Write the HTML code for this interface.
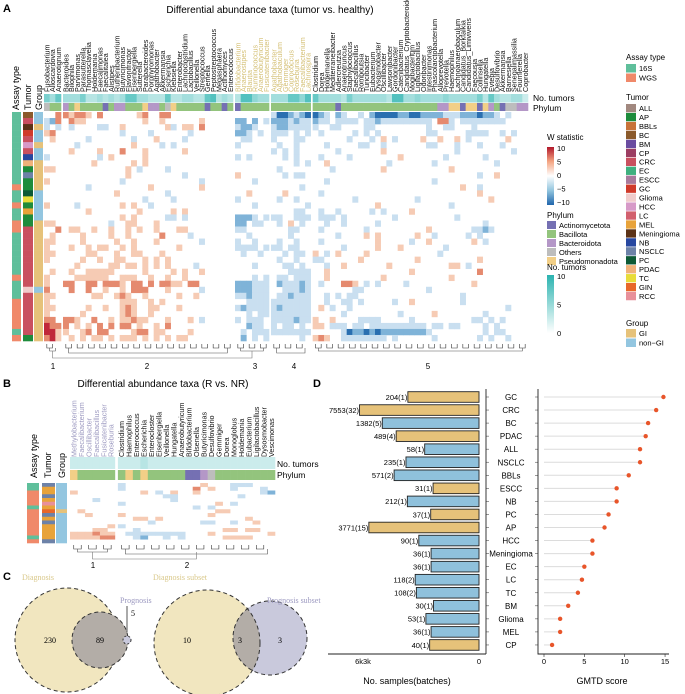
<!DOCTYPE html>
<html><head><meta charset="utf-8"><style>
html,body{margin:0;padding:0;background:#fff}
svg{display:block;font-family:"Liberation Sans",Arial,sans-serif}
</style></head><body>
<svg id="fig" width="685" height="694" viewBox="0 0 685 694" xmlns="http://www.w3.org/2000/svg">
<defs>
<linearGradient id="wgrad" x1="0" y1="0" x2="0" y2="1"><stop offset="0" stop-color="#b2182b"/><stop offset="0.25" stop-color="#f4a582"/><stop offset="0.5" stop-color="#ffffff"/><stop offset="0.75" stop-color="#92c5de"/><stop offset="1" stop-color="#2166ac"/></linearGradient>
<linearGradient id="ngrad" x1="0" y1="0" x2="0" y2="1"><stop offset="0" stop-color="#2bb3b0"/><stop offset="1" stop-color="#ffffff"/></linearGradient>
<clipPath id="vennclip"><circle cx="207" cy="643" r="53"/></clipPath>
</defs>
<text x="3" y="12" font-size="11" font-weight="bold">A</text>
<text x="270" y="13" font-size="10" text-anchor="middle">Differential abundance taxa (tumor vs. healthy)</text>
<text x="3" y="387" font-size="11" font-weight="bold">B</text>
<text x="163" y="387" font-size="10" text-anchor="middle">Differential abundance taxa (R vs. NR)</text>
<text x="3" y="580" font-size="11" font-weight="bold">C</text>
<text x="313" y="387" font-size="11" font-weight="bold">D</text>
<g id="gA"></g>
<g id="gB"></g>
<g id="gC">
<circle cx="67" cy="640" r="52" fill="#f1e6bf" stroke="#333" stroke-dasharray="4,3"/>
<circle cx="100" cy="640" r="28" fill="#b3ada7" stroke="#333" stroke-dasharray="4,3"/>
<circle cx="127" cy="640" r="4" fill="#c9c9dc" stroke="#333" stroke-dasharray="2,2"/>
<line x1="127" y1="606" x2="127" y2="632" stroke="#555"/>
<text x="22" y="580" font-size="8" fill="#d9c88a" font-family="Liberation Serif,serif">Diagnosis</text>
<text x="120" y="603" font-size="8" fill="#9c99c0" font-family="Liberation Serif,serif">Prognosis</text>
<text x="131" y="616" font-size="8" font-family="Liberation Serif,serif">5</text>
<text x="50" y="643" font-size="8" text-anchor="middle" font-family="Liberation Serif,serif">230</text>
<text x="100" y="643" font-size="8" text-anchor="middle" font-family="Liberation Serif,serif">89</text>
<circle cx="207" cy="643" r="53" fill="#f1e6bf"/>
<circle cx="270" cy="638" r="37" fill="#c9c9dc"/>
<circle cx="270" cy="638" r="37" fill="#b3ada7" clip-path="url(#vennclip)"/>
<circle cx="207" cy="643" r="53" fill="none" stroke="#333" stroke-dasharray="4,3"/>
<circle cx="270" cy="638" r="37" fill="none" stroke="#333" stroke-dasharray="4,3"/>
<text x="153" y="580" font-size="8" fill="#d9c88a" font-family="Liberation Serif,serif">Diagnosis subset</text>
<text x="267" y="603" font-size="8" fill="#9c99c0" font-family="Liberation Serif,serif">Prognosis subset</text>
<text x="187" y="643" font-size="8" text-anchor="middle" font-family="Liberation Serif,serif">10</text>
<text x="240" y="643" font-size="8" text-anchor="middle" font-family="Liberation Serif,serif">3</text>
<text x="280" y="643" font-size="8" text-anchor="middle" font-family="Liberation Serif,serif">3</text>
</g>
<g id="gD"></g>
<g id="gL"></g>
</svg>
<script>
// ---------- Panel D data ----------
const tumors = ["GC","CRC","BC","PDAC","ALL","NSCLC","BBLs","ESCC","NB","PC","AP","HCC","Meningioma","EC","LC","TC","BM","Glioma","MEL","CP"];
const samples = [204,7553,1382,489,58,235,571,31,212,37,3771,90,36,36,118,108,30,53,36,40];
const batches = [1,32,5,4,1,1,2,1,1,1,15,1,1,1,2,2,1,1,1,1];
const groups = ["GI","GI","nonGI","GI","nonGI","nonGI","nonGI","GI","nonGI","GI","GI","nonGI","nonGI","nonGI","nonGI","nonGI","nonGI","nonGI","nonGI","GI"];
const gmtd = [14.8,13.9,12.9,12.6,11.9,11.9,10.5,9,9,8,7.5,6,6,5,4.7,4.2,3,2,2,1];
const gmtdTicks = [0,5,10,15];

// ---------- Panel A data ----------
const segSizes = [3,30,6,7,38];
const taxaA = [
 ["Fusobacterium","Alloscardovia","Anaerotignum"],
 ["Bacteroides","Bilophila","Parvimonas","Parasutterella","Thomasclavelia","Holdemania","Faecalimonas","Faecalitalea","Alistipes","Ruthenibacterium","Butyricimonas","Flavonifractor","Eisenbergiella","Sutterella","Parabacteroides","Porphyromonas","Agathobacter","Akkermansia","Escherichia","Klebsiella","Enterobacter","Lachnoclostridium","Lactobacillus","Veillonella","Streptococcus","Gemella","Peptostreptococcus","Megasphaera","Actinomyces","Enterococcus"],
 ["Bifidobacterium","Anaerostipes","Blautia","Ruminococcus","Anaerobutyricum","Fusicatenibacter"],
 ["Agathobacter","Agathobaculum","Gemmiger","Coprococcus","Roseburia","Faecalibacterium","Lachnospira"],
 ["Clostridium","Dorea","Holdemanella","Mediterraneibacter","Adlercreutzia","Anaerotruncus","Staphylococcus","Faecalibacillus","Romboutsia","Turicibacter","Eubacterium","Dysosmobacter","Oscillibacter","Lawsonibacter","Gordonibacter","Catenibacterium","Candidatus_Cryptobacteroides","Mogibacterium","Ligilactobacillus","Odoribacter","Intestinimonas","Phascolarctobacterium","Alloprevotella","Prevotella","Haemophilus","Lachnoanaerobaculum","Candidatus_Borkfalkia","Candidatus_Limivivens","Faecousia","Collinsella","Hungatella","Evtepia","Desulfovibrio","Akkermansia","Barnesiella","Senegalimassilia","Fournierella","Coprobacter"]
];
const tumorCountA = ["536","3335223232366332226223322672323","277433","3336647","6333325333333277334333343333352632233"];
const phylumA = ["ogg","pgyggggagppgggyppgoygggggagga","aggggg","ggggggg","ggggagggggggggggggggggppyyayyaypgaoopp"];
const cellsA = [
"..R.|RrRRr.R......rR..RR.......|.......|bNNBbBN|NBb.Bb..b.BNNNNBBNNBBBBbbbBBBNBBb.b.",
"bBR.|.Rrr..........r..r......r.|BB.B.b.|BBBbBbb|Bbb.bbbb.bbBbbbbbbbbb.RRb.bbbbbbbb...",
"b.bb|.b....bb..r.......rb.rr.R.|bBBb...|bBBbbbb|b..bb....bb.........b..bb...b.......",
"rR..|..........b....b......b...|BBb.b..|bbb.b.b|.b.....b.b.b........bb.....bbbb..b.b",
".r..|....b.......b...r....b....|.bb....|b...bb.|......b...b.r.b....r..r..r.b......r.",
"....|..b.........r....b.b.....|b......|.b..b..|..b.....bb..b.......bb...b...b...b..",
"....|.r....r...R...r......r...|.......|b.b.b..|....b.......r............b.........b",
"b...|......b.r.....r..........|b.b....|..b.b..|.b....b........r.......b......b....",
"....|.....r......r.r..........|.......|....b.b|..r..........b.......b..........b..",
"rr..|...........r.b....b......|.......|.b.....|...b........r...........r..........",
"....|...........r.........b...|r......|..b.bb.|.............................b..r...",
"r...|..........b.............b|...b...|.......|..b..................b.............",
"....|....b..........r........r|.......|.....b.|..........................r..b.....",
"....|.........r........b......|..r....|..r....|.b...........................r....",
"....|..............b....b.....|b......|.b..b..|.......b..........b............r...",
"r...|..b.......r.r..b.........|...b...|......b|...........r............b.........",
"....|....r........r.....r.r...|.......|....bb.|.b..b.....b.b....r................",
"....|..........r.r.....bb.b...|BBBb.b.|bb..bbb|.bbb.b........b..........b........",
"rr.r|........b..rr...r........|BB.bb..|.b.r.b.|..b..b.....b..................b...",
"..R.|.rr..r..r..r.r..r...rr...|bb....b|...bb..|.b.......b..........r.......bbBb..",
".r..|...r....r..r.....R....b..|..b....|...b...|....b....r.r......r..b.....b.b....",
"rr..|...r.....r..r...r.......b|b..b...|.b..b..|.b.........r.....b..r.......r.b...",
"r...|.r..r.rr..r.r.......r....|bbbb.b.|bb.bb..|.....b.....r...r.......b.........",
"rr..|....rr...r..rr...r.......|.b..b..|..b.bb.|r.b.r....r............b...........",
"r...|...r..r..rr...r.r.r.....|.......|.b..b..|bb......r.........r..........r.....",
"....|..r.....rr.rr.r.r.r....b.|...b...|..bb.b.|..b..r.......r..........rr.b......",
".r..|.r..rrrrr.....r....r.r..r|......b|...bbbb|..r..............r...........R....",
"r...|..rrrrrr..rrr..r..r..r...|...b.bb|.bb.bbb|..r.........r...........r.........",
"r...|RR..RR.RRRr.RR.R.RRrr.RR..|BBBbbb.|.BbbbBb|.b...RRr.b.b....b...........r....",
"R...|.R..R..r..r.RRR...r.....b|BBBbbb.|..bbbBb|.......bb...........b...........",
"rr..|.....rr..rRr..r.....r..r.|bbBbbbb|.bbBbbb|..b.b.bb..................b.....",
"r...|..........rrr..r.r.......|..bbbb.|bbbbbbb|..b..bb.b.....b..r........b......",
"rr..|....r..r..rRr..rr...r....|bBbbbb.|bBbbbbb|.r.b..b...........................b",
"r...|...r......rRr..r.........|..b.bbb|bbbbbbb|.....b.........b.....r........b...",
"RR..|RRr..R..r.rrRrr...r...r.b|b.bbb..|bbbbBbb|r..r....bbbb.....b..........bb.b.b",
"DRR.|R.r.r.R.R.RR.r..r.R......|..Bbb.b|b.bb.b.|rr.bbb.bb.bbbbbbbbbb.bb.bb....b.b.",
"DDr.|r..rR.RR....rRR.rr....r.|.b.bbbb|bbbbbbb|.....bNBBNBNBBBBBBBBb.........b.bb",
"RDr.|.r.r.rr.r.rrr.r.r.r.rr...|.B.b.b.|.....b.|rRr..bbbbbbbb.b......b.......b.b..b"
];
const assayA = "ttttttttttttwttwttwwtttttttwtttwwwwwtw";
const tumorA = "CRnGRHRNdPsPPcTPmPPRRRRRRRRRRgRRRRRRRP";
const groupA = "nngnngnngggggnnnnngggggggggggngggggggg";
const clusterLabelsA = ["1","2","3","4","5"];

// ---------- Panel B data ----------
const bSegSizes = [6,21];
const taxaB = [
 ["Methylobacterium","Faecalibacterium","Oscillibacter","Faecalibacillus","Fusicatenibacter","Roseburia"],
 ["Clostridium","Haemophilus","Enterococcus","Escherichia","Enterocloster","Eisenbergiella","Veillonella","Hungatella","Anaerobutyricum","Bifidobacterium","Olsenella","Butyricimonas","Desulfovibrio","Gemmiger","Dorea","Monoglobus","Holdemania","Eubacterium","Ligilactobacillus","Dysosmobacter","Vescimonas"]
];
const tumorCountB = ["111111","111211111111111111111"];
const phylumB = ["yggggg","gygygggggaapoggggggggg"];
const cellsB = [
"......|b..........r...bbb...",
"......|b.........R.r..b...b.",
"r.....|...r.b.r..r........bB",
"......|......bb........b....",
"...b..|.......b.............",
"......|b............r.b.....",
"......|..........b.b........",
".r....|.............rr......",
"..r...|r...........r........",
"......|..rr.r...........r...",
"......|....b......bb..b..r..",
".....r|b....................",
"...rr.|..b...........rr.rr..",
"rrrRrr|.bbbbbbbb...r.......r",
"rrrrRR|..bB..b.b.....rrrr...",
"......|....................."
];
const assayB = "ttwwwwtwwwwwwwtw";
const tumorB = "smmsmrmIsmsmmmms";
const groupB = "nnnnnnngnnnnnnnn";
const clusterLabelsB = ["1","2"];

// ---------- Legend data ----------
const tumorLegend = ["ALL","AP","BBLs","BC","BM","CP","CRC","EC","ESCC","GC","Glioma","HCC","LC","MEL","Meningioma","NB","NSCLC","PC","PDAC","TC","GIN","RCC"];
const phylumLegend = ["Actinomycetota","Bacillota","Bacteroidota","Others","Pseudomonadota"];
const wTicks = [10,5,0,-5,-10];
const nTicks = [10,5,0];

// ---------- styles / helpers ----------
const NS = "http://www.w3.org/2000/svg";
const cellCol = {r:"#f6cbb4",R:"#e58a6f",D:"#c0283a",b:"#c9dff0",B:"#7fb3d8",N:"#2a6fb0"};
const phyCol = {a:"#7570b3",g:"#93c47d",p:"#b497c7",o:"#bdbdbd",y:"#f2cf87"};
const phyLegCol = ["#7570b3","#93c47d","#b497c7","#bdbdbd","#f2cf87"];
const tumCol = {A:"#a1887f",P:"#1e8c3c",L:"#c8733a",C:"#8b5a2b",M:"#6a4ca0",p:"#9c3e62",R:"#c9505f",E:"#3fb07f",S:"#a87a9c",G:"#d03a2a",g:"#f0cccc",H:"#d79ac8",l:"#d2606e",m:"#e8a33a",n:"#5c3317",N:"#2747a0",s:"#6d82a8",c:"#0d5a36",d:"#f0b27a",T:"#e8dc3a",I:"#e8672a",r:"#e8909a"};
const tumLegCol = ["#a1887f","#1e8c3c","#c8733a","#8b5a2b","#6a4ca0","#9c3e62","#c9505f","#3fb07f","#a87a9c","#d03a2a","#f0cccc","#d79ac8","#d2606e","#e8a33a","#5c3317","#2747a0","#6d82a8","#0d5a36","#f0b27a","#e8dc3a","#e8672a","#e8909a"];
const assayCol = {t:"#5fbf9b",w:"#f0896a"};
const groupCol = {g:"#e6c27a",n:"#93c6e0",GI:"#e6c27a",nonGI:"#8fc1dc"};
function mk(tag, attrs, parent){const e=document.createElementNS(NS,tag);for(const k in attrs)e.setAttribute(k,attrs[k]);parent.appendChild(e);return e;}
function tcol(d){const t=Math.max(0,Math.min(9,+d))/9;const a=[255,255,255],b=[43,179,176];const c=a.map((v,i)=>Math.round(v+(b[i]-v)*(0.15+0.85*t)));return "rgb("+c.join(",")+")";}
function segs(str,sizes){const parts=str.split("|");const out=[];sizes.forEach((n,i)=>{let s=(parts[i]||"");s=(s+".".repeat(n)).slice(0,n);for(const ch of s)out.push(ch);});return out;}

// ---------- heatmap builder ----------
function heatmap(g, cfg){
  const {sizes,x0,x1,gap,taxa,tcount,phy,cells,yCells0,yCells1,yHdr,yNT,yPh,labelColors,assay,tumor,grp,annX,dendY,clusterLabels,labelSize} = cfg;
  const ncol = sizes.reduce((a,b)=>a+b,0);
  const cw = (x1-x0-gap*(sizes.length-1))/ncol;
  const colX = []; let x=x0;
  sizes.forEach((n,si)=>{for(let i=0;i<n;i++){colX.push({x:x,seg:si,idx:i});x+=cw;} x+=gap;});
  const tc = segs(tcount.join("|"),sizes), ph = segs(phy.join("|"),sizes);
  const names = []; taxa.forEach((arr,si)=>{for(let i=0;i<sizes[si];i++)names.push(arr[i]||"");});
  colX.forEach((c,i)=>{
    const t = mk("text",{transform:"translate("+(c.x+cw/2+2.6)+","+yHdr+") rotate(-90)","font-size":labelSize,fill:labelColors[c.seg]},g);
    
    
    t.textContent = names[i];
    const r1 = mk("rect",{x:c.x,y:yNT[0],width:cw+0.3,height:yNT[1]-yNT[0],fill:tcol(tc[i]==="."?1:tc[i])},g);
    
    
    const r2 = mk("rect",{x:c.x,y:yPh[0],width:cw+0.3,height:yPh[1]-yPh[0],fill:phyCol[ph[i]]||phyCol.g},g);
    
    
  });
  const rh = (yCells1-yCells0)/cells.length;
  cells.forEach((row,ri)=>{
    const v = segs(row,sizes);
    v.forEach((ch,ci)=>{
      if(!cellCol[ch]) return;
      const r = mk("rect",{x:colX[ci].x,y:yCells0+ri*rh,width:cw+0.3,height:rh+0.3,fill:cellCol[ch]},g);
      
      
    });
  });
  const ah = (yCells1-yCells0)/assay.length;
  [[assay,assayCol,annX[0]],[tumor,tumCol,annX[1]],[grp,groupCol,annX[2]]].forEach(([s,cm,ax],k)=>{
    for(let i=0;i<s.length;i++){
      const r = mk("rect",{x:ax[0],y:yCells0+i*ah,width:ax[1]-ax[0],height:ah+0.3,fill:cm[s[i]]||"#ccc"},g);
      
      
    }
  });
  // dendrogram
  let start=0; const segCenters=[];
  sizes.forEach((n,si)=>{
    const xs = colX.slice(start,start+n).map(c=>c.x+cw/2); start+=n;
    for(let i=0;i+1<xs.length;i+=2){
      const p = mk("path",{d:"M"+xs[i]+","+(dendY+4)+"V"+(dendY+8)+"H"+xs[i+1]+"V"+(dendY+4),fill:"none",stroke:"#333","stroke-width":0.6},g);
      
      
    }
    const mid=(xs[0]+xs[xs.length-1])/2; segCenters.push(mid);
    const p2 = mk("path",{d:"M"+(xs[0]+cw/2)+","+(dendY+8)+"V"+(dendY+11+si%2*2)+"H"+(xs[xs.length-1]-cw/2)+"V"+(dendY+8),fill:"none",stroke:"#555","stroke-width":0.6},g);
    
    
  });
  const p3 = mk("path",{d:"M"+segCenters[0]+","+(dendY+11)+"V"+(dendY+18)+"H"+segCenters[Math.min(2,segCenters.length-1)]+"V"+(dendY+11),fill:"none",stroke:"#777","stroke-width":0.6},g);
  
  
  const cl = cfg.clusterX;
  clusterLabels.forEach((s,i)=>{
    const t = mk("text",{x:cl[i],y:cfg.clusterY,"font-size":8,"text-anchor":"middle"},g);
    
    
    t.textContent=s;
  });
  return colX;
}
const gA = document.getElementById("gA");
heatmap(gA,{sizes:segSizes,x0:44,x1:528,gap:2,taxa:taxaA,tcount:tumorCountA,phy:phylumA,cells:cellsA,yCells0:112,yCells1:341,yHdr:92,yNT:[94,102.5],yPh:[103,111],
  labelColors:["#111","#111","#d4bf73","#d4bf73","#111"],assay:assayA,tumor:tumorA,grp:groupA,annX:[[12,21],[23,33],[34,43]],dendY:340,clusterLabels:clusterLabelsA,clusterX:[53,147,255,294,428],clusterY:369,labelSize:7.2});
const gB = document.getElementById("gB");
heatmap(gB,{sizes:bSegSizes,x0:70,x1:275,gap:3,taxa:taxaB,tcount:tumorCountB,phy:phylumB,cells:cellsB,yCells0:483,yCells1:543,yHdr:457,yNT:[457,469],yPh:[470,480],
  labelColors:["#9c99c0","#111"],assay:assayB,tumor:tumorB,grp:groupB,annX:[[27,39],[42,55],[56,67]],dendY:541,clusterLabels:clusterLabelsB,clusterX:[93,187],clusterY:568,labelSize:7.2});

function txt(g,x,y,s,size,anchor,name,extra){const t=mk("text",Object.assign({x:x,y:y,"font-size":size,"text-anchor":anchor||"start"},extra||{}),g);t.textContent=s;return t;}
// annotation / row labels
[["Assay type",19],["Tumor",31],["Group",42]].forEach(([s,x])=>{
  const t=mk("text",{transform:"translate("+x+",110) rotate(-90)","font-size":9},gA);t.textContent=s;
  
  
});
[["Assay type",37],["Tumor",51],["Group",65]].forEach(([s,x])=>{
  const t=mk("text",{transform:"translate("+x+",478) rotate(-90)","font-size":9},gB);t.textContent=s;
  
  
});
txt(gA,533,101,"No. tumors",8.5,"start","row-label-no-tumors");
txt(gA,533,111,"Phylum",8.5,"start","row-label-phylum");
txt(gB,277,467,"No. tumors",8.5,"start","row-label-no-tumors-b");
txt(gB,277,478,"Phylum",8.5,"start","row-label-phylum-b");

// ---------- legends ----------
const gL = document.getElementById("gL");
txt(gL,626,60,"Assay type",8,"start","legend-title-assay");
[["16S","#5fbf9b"],["WGS","#f0896a"]].forEach(([s,c],i)=>{
  const r=mk("rect",{x:626,y:64+i*9.5,width:10,height:8.5,fill:c},gL);
  
  
  txt(gL,639,71+i*9.5,s,7.5,"start","legend-entry");
});
txt(gL,626,100,"Tumor",8,"start","legend-title-tumor");
tumorLegend.forEach((s,i)=>{
  const r=mk("rect",{x:626,y:104+i*8.95,width:10,height:8.3,fill:tumLegCol[i]},gL);
  
  
  txt(gL,639,111+i*8.95,s,7.5,"start","legend-entry");
});
txt(gL,626,326,"Group",8,"start","legend-title-group");
[["GI","#e6c27a"],["non\u2212GI","#93c6e0"]].forEach(([s,c],i)=>{
  const r=mk("rect",{x:626,y:329+i*9.5,width:10,height:8.5,fill:c},gL);
  
  
  txt(gL,639,336+i*9.5,s,7.5,"start","legend-entry");
});
txt(gL,547,140,"W statistic",8,"start","legend-title-w");
const wr=mk("rect",{x:547,y:147,width:7,height:58,fill:"url(#wgrad)"},gL);


wTicks.forEach((v,i)=>{txt(gL,557,151+i*13.5,v<0?"\u2212"+(-v):String(v),7.5,"start","w-tick");});
txt(gL,547,218,"Phylum",8,"start","legend-title-phylum");
phylumLegend.forEach((s,i)=>{
  const r=mk("rect",{x:547,y:221+i*9,width:9,height:8,fill:phyLegCol[i]},gL);
  
  
  txt(gL,559,228+i*9,s,7.5,"start","legend-entry");
});
txt(gL,547,270,"No. tumors",8,"start","legend-title-no-tumors");
const nr=mk("rect",{x:547,y:275,width:7,height:58,fill:"url(#ngrad)"},gL);


nTicks.forEach((v,i)=>{txt(gL,557,279+i*28.5,String(v),7.5,"start","no-tumors-tick");});

// ---------- Panel D ----------
const gD = document.getElementById("gD");
const rowY = i => 397 + i*13.05;
const barX0 = 479, k = 30.8;
const barW = v => k*Math.log10(v);
const dotX = v => 544 + 8.07*v;
tumors.forEach((t,i)=>{
  const y=rowY(i), w=barW(samples[i]);
  const b=mk("rect",{x:barX0-w,y:y-5.3,width:w,height:10.6,fill:groupCol[groups[i]],stroke:"#222","stroke-width":0.9},gD);
  
  
  txt(gD,barX0-w-0.5,y+2.8,samples[i]+"("+batches[i]+")",7.5,"end","bar-value-label");
  txt(gD,511,y+3,t,8,"middle","tumor-axis-label");
  const tk1=mk("line",{x1:486,x2:489,y1:y,y2:y,stroke:"#555","stroke-width":0.6},gD);
  
  
  const tk2=mk("line",{x1:535,x2:538,y1:y,y2:y,stroke:"#555","stroke-width":0.6},gD);
  
  
  const ln=mk("line",{x1:544,x2:dotX(gmtd[i]),y1:y,y2:y,stroke:"#dcdcdc","stroke-width":1},gD);
  
  
  const c=mk("circle",{cx:dotX(gmtd[i]),cy:y,r:2.2,fill:"#e8552a"},gD);
  
  
});
[["M328,654H486",'x-axis-samples'],["M486,389V654",'y-axis-samples'],["M538,389V654H669",'axes-gmtd']].forEach(([d,n])=>{
  const p=mk("path",{d:d,fill:"none",stroke:"#222","stroke-width":0.9},gD);
  
  
});
txt(gD,363,664,"6k3k",7.5,"middle","x-tick-6k3k");
txt(gD,479,664,"0",7.5,"middle","x-tick-0");
txt(gD,407,684,"No. samples(batches)",9,"middle","x-axis-title-samples");
gmtdTicks.forEach(v=>{
  const l=mk("line",{x1:dotX(v),x2:dotX(v),y1:654,y2:657,stroke:"#222","stroke-width":0.6},gD);
  
  
  txt(gD,dotX(v),664,String(v),7.5,"middle","x-tick-label-gmtd");
});
txt(gD,602,684,"GMTD score",9,"middle","x-axis-title-gmtd");
</script>
</body></html>
